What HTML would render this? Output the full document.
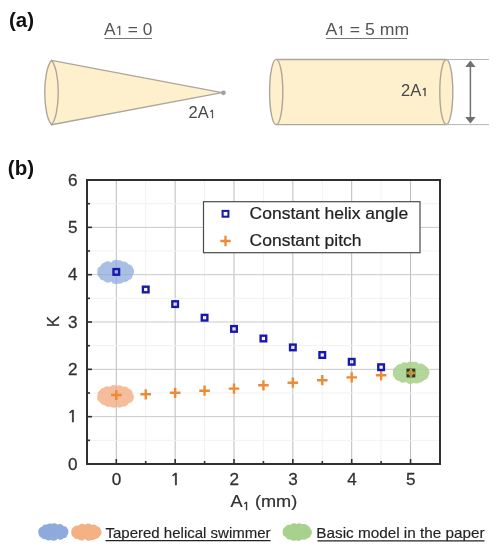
<!DOCTYPE html>
<html><head><meta charset="utf-8"><title>Figure</title>
<style>
html,body{margin:0;padding:0;background:#fff;}
body{width:502px;height:550px;overflow:hidden;}
svg{display:block;font-family:"Liberation Sans",Arial,sans-serif;}
</style></head><body>
<svg width="502" height="550" viewBox="0 0 502 550">
<rect width="502" height="550" fill="#fff"/>
<text transform="translate(8.90 26.80)" font-size="20.5" fill="#111" font-weight="bold">(a)</text>
<text transform="translate(104.00 35.00) scale(1.03 1)" font-size="16.8" fill="#555">A<tspan font-family="NanumGothic, sans-serif" font-size="12" stroke="#555" stroke-width="0.45">1</tspan> = 0</text>
<line x1="104.5" y1="38.5" x2="152" y2="38.5" stroke="#777" stroke-width="1.2"/>
<text transform="translate(325.50 35.00) scale(1.05 1)" font-size="16.8" fill="#555">A<tspan font-family="NanumGothic, sans-serif" font-size="12" stroke="#555" stroke-width="0.45">1</tspan> = 5 mm</text>
<line x1="326" y1="38.5" x2="407" y2="38.5" stroke="#777" stroke-width="1.2"/>
<path d="M51.5 60.4 L222 92.6 L51.5 124.7 Z" fill="#fef0cd" stroke="#ada69b" stroke-width="1.4" stroke-linejoin="round"/>
<path d="M51.5 60.4 A9.4 33.5 0 0 0 51.5 124.7 A9.4 33.5 0 0 0 51.5 60.4 Z" fill="#fef0cd" stroke="#ada69b" stroke-width="1.4"/>
<circle cx="223.4" cy="92.8" r="2.4" fill="#a0a0a0"/>
<text transform="translate(188.50 117.80)" font-size="16.5" fill="#484848">2A<tspan font-family="NanumGothic, sans-serif" font-size="11.2" stroke="#484848" stroke-width="0.45">1</tspan></text>
<rect x="276" y="59.5" width="170.3" height="65" fill="#fef0cd"/>
<ellipse cx="446.3" cy="92" rx="6.5" ry="32.5" fill="#fef0cd" stroke="#ada69b" stroke-width="1.4"/>
<line x1="276" y1="59.5" x2="446.3" y2="59.5" stroke="#ada69b" stroke-width="1.4"/>
<line x1="276" y1="124.6" x2="446.3" y2="124.6" stroke="#ada69b" stroke-width="1.4"/>
<ellipse cx="276.2" cy="92" rx="6.6" ry="32.6" fill="#fef0cd" stroke="#ada69b" stroke-width="1.4"/>
<line x1="446.3" y1="59.5" x2="489" y2="59.5" stroke="#b5b5b5" stroke-width="1"/>
<line x1="446.3" y1="124.6" x2="489" y2="124.6" stroke="#b5b5b5" stroke-width="1"/>
<line x1="470.4" y1="64" x2="470.4" y2="120" stroke="#707070" stroke-width="1.5"/>
<path d="M470.4 60.5 L475.6 67 L465.2 67 Z" fill="#707070"/>
<path d="M470.4 123.5 L475.6 117 L465.2 117 Z" fill="#707070"/>
<text transform="translate(401.00 96.00)" font-size="16.5" fill="#484848">2A<tspan font-family="NanumGothic, sans-serif" font-size="11.2" stroke="#484848" stroke-width="0.45">1</tspan></text>
<text transform="translate(7.80 175.40)" font-size="20.5" fill="#111" font-weight="bold">(b)</text>
<line x1="116.30" y1="180" x2="116.30" y2="464" stroke="#bcbcbc" stroke-width="1"/>
<line x1="145.72" y1="180" x2="145.72" y2="464" stroke="#f1f1f1" stroke-width="1"/>
<line x1="175.15" y1="180" x2="175.15" y2="464" stroke="#bcbcbc" stroke-width="1"/>
<line x1="204.57" y1="180" x2="204.57" y2="464" stroke="#f1f1f1" stroke-width="1"/>
<line x1="234.00" y1="180" x2="234.00" y2="464" stroke="#bcbcbc" stroke-width="1"/>
<line x1="263.43" y1="180" x2="263.43" y2="464" stroke="#f1f1f1" stroke-width="1"/>
<line x1="292.85" y1="180" x2="292.85" y2="464" stroke="#bcbcbc" stroke-width="1"/>
<line x1="322.27" y1="180" x2="322.27" y2="464" stroke="#f1f1f1" stroke-width="1"/>
<line x1="351.70" y1="180" x2="351.70" y2="464" stroke="#bcbcbc" stroke-width="1"/>
<line x1="381.12" y1="180" x2="381.12" y2="464" stroke="#f1f1f1" stroke-width="1"/>
<line x1="410.55" y1="180" x2="410.55" y2="464" stroke="#bcbcbc" stroke-width="1"/>
<line x1="87" y1="440.33" x2="440" y2="440.33" stroke="#f1f1f1" stroke-width="1"/>
<line x1="87" y1="416.67" x2="440" y2="416.67" stroke="#c9c9c9" stroke-width="1"/>
<line x1="87" y1="393.00" x2="440" y2="393.00" stroke="#f1f1f1" stroke-width="1"/>
<line x1="87" y1="369.34" x2="440" y2="369.34" stroke="#c9c9c9" stroke-width="1"/>
<line x1="87" y1="345.68" x2="440" y2="345.68" stroke="#f1f1f1" stroke-width="1"/>
<line x1="87" y1="322.01" x2="440" y2="322.01" stroke="#c9c9c9" stroke-width="1"/>
<line x1="87" y1="298.35" x2="440" y2="298.35" stroke="#f1f1f1" stroke-width="1"/>
<line x1="87" y1="274.68" x2="440" y2="274.68" stroke="#c9c9c9" stroke-width="1"/>
<line x1="87" y1="251.02" x2="440" y2="251.02" stroke="#f1f1f1" stroke-width="1"/>
<line x1="87" y1="227.35" x2="440" y2="227.35" stroke="#c9c9c9" stroke-width="1"/>
<line x1="87" y1="203.69" x2="440" y2="203.69" stroke="#f1f1f1" stroke-width="1"/>
<g fill="#8eaadc" opacity="0.75"><ellipse cx="115.60" cy="272.00" rx="14.00" ry="7.50"/><circle cx="128.82" cy="271.51" r="5.25"/><circle cx="127.93" cy="275.34" r="4.66"/><circle cx="124.74" cy="277.31" r="4.85"/><circle cx="119.33" cy="278.54" r="5.19"/><circle cx="115.27" cy="279.57" r="4.43"/><circle cx="107.99" cy="277.95" r="4.83"/><circle cx="103.78" cy="276.14" r="4.40"/><circle cx="102.55" cy="273.50" r="5.12"/><circle cx="102.60" cy="270.97" r="5.35"/><circle cx="104.92" cy="267.07" r="4.43"/><circle cx="107.74" cy="266.25" r="4.94"/><circle cx="115.37" cy="264.78" r="4.78"/><circle cx="119.08" cy="265.06" r="4.82"/><circle cx="123.88" cy="266.08" r="4.62"/><circle cx="127.96" cy="269.03" r="4.90"/></g>
<g fill="#f4ad85" opacity="0.8"><ellipse cx="115.50" cy="396.40" rx="14.00" ry="7.00"/><circle cx="128.60" cy="396.96" r="5.35"/><circle cx="128.76" cy="398.67" r="4.48"/><circle cx="123.76" cy="401.40" r="5.14"/><circle cx="119.31" cy="402.93" r="4.71"/><circle cx="113.81" cy="402.84" r="5.01"/><circle cx="108.33" cy="402.35" r="4.56"/><circle cx="104.52" cy="400.42" r="4.79"/><circle cx="102.57" cy="397.40" r="5.39"/><circle cx="102.55" cy="394.47" r="4.94"/><circle cx="104.22" cy="392.45" r="4.67"/><circle cx="107.36" cy="390.63" r="4.43"/><circle cx="113.96" cy="389.66" r="4.72"/><circle cx="119.28" cy="390.45" r="5.29"/><circle cx="124.61" cy="391.56" r="4.96"/><circle cx="128.04" cy="393.18" r="4.42"/></g>
<g fill="#a9d18e" opacity="0.88"><ellipse cx="411.00" cy="372.80" rx="14.00" ry="6.75"/><circle cx="424.54" cy="372.47" r="4.94"/><circle cx="423.47" cy="375.19" r="5.00"/><circle cx="420.13" cy="377.95" r="4.47"/><circle cx="416.31" cy="378.31" r="5.24"/><circle cx="410.22" cy="379.41" r="4.63"/><circle cx="403.05" cy="377.98" r="4.87"/><circle cx="399.46" cy="376.19" r="4.88"/><circle cx="397.28" cy="374.01" r="4.55"/><circle cx="398.14" cy="371.40" r="5.27"/><circle cx="400.23" cy="369.19" r="5.14"/><circle cx="404.40" cy="366.81" r="4.46"/><circle cx="410.28" cy="366.55" r="4.99"/><circle cx="414.81" cy="366.24" r="4.43"/><circle cx="420.83" cy="368.39" r="4.87"/><circle cx="423.30" cy="370.61" r="5.28"/></g>
<rect x="203.5" y="201.7" width="216.5" height="51" fill="#fff" stroke="#4a4a4a" stroke-width="1.2"/>
<rect x="222.6" y="210.9" width="5.8" height="5.8" fill="none" stroke="#1818b0" stroke-width="2.05"/>
<path d="M220.3 241 H230.7 M225.5 235.8 V246.2" stroke="#ee8a35" stroke-width="2.3"/>
<text transform="translate(249.60 218.70) scale(1.081 1)" font-size="16.2" fill="#222" stroke="#222" stroke-width="0.2">Constant helix angle</text>
<text transform="translate(249.60 245.80) scale(1.081 1)" font-size="16.2" fill="#222" stroke="#222" stroke-width="0.2">Constant pitch</text>
<path d="M111.00 395.00 H121.60 M116.30 389.90 V400.10" stroke="#ee8a35" stroke-width="2.4"/>
<path d="M140.42 394.30 H151.03 M145.72 389.20 V399.40" stroke="#ee8a35" stroke-width="2.4"/>
<path d="M169.85 392.80 H180.45 M175.15 387.70 V397.90" stroke="#ee8a35" stroke-width="2.4"/>
<path d="M199.27 390.70 H209.88 M204.57 385.60 V395.80" stroke="#ee8a35" stroke-width="2.4"/>
<path d="M228.70 388.60 H239.30 M234.00 383.50 V393.70" stroke="#ee8a35" stroke-width="2.4"/>
<path d="M258.12 385.30 H268.73 M263.43 380.20 V390.40" stroke="#ee8a35" stroke-width="2.4"/>
<path d="M287.55 382.70 H298.15 M292.85 377.60 V387.80" stroke="#ee8a35" stroke-width="2.4"/>
<path d="M316.97 380.20 H327.57 M322.27 375.10 V385.30" stroke="#ee8a35" stroke-width="2.4"/>
<path d="M346.40 377.40 H357.00 M351.70 372.30 V382.50" stroke="#ee8a35" stroke-width="2.4"/>
<path d="M375.82 375.30 H386.43 M381.12 370.20 V380.40" stroke="#ee8a35" stroke-width="2.4"/>
<rect x="113.50" y="269.10" width="5.6" height="5.6" fill="none" stroke="#1818b0" stroke-width="2.4"/>
<rect x="142.92" y="286.70" width="5.6" height="5.6" fill="none" stroke="#1818b0" stroke-width="2.4"/>
<rect x="172.35" y="301.30" width="5.6" height="5.6" fill="none" stroke="#1818b0" stroke-width="2.4"/>
<rect x="201.77" y="314.90" width="5.6" height="5.6" fill="none" stroke="#1818b0" stroke-width="2.4"/>
<rect x="231.20" y="326.10" width="5.6" height="5.6" fill="none" stroke="#1818b0" stroke-width="2.4"/>
<rect x="260.62" y="335.70" width="5.6" height="5.6" fill="none" stroke="#1818b0" stroke-width="2.4"/>
<rect x="290.05" y="344.60" width="5.6" height="5.6" fill="none" stroke="#1818b0" stroke-width="2.4"/>
<rect x="319.47" y="352.20" width="5.6" height="5.6" fill="none" stroke="#1818b0" stroke-width="2.4"/>
<rect x="348.90" y="359.00" width="5.6" height="5.6" fill="none" stroke="#1818b0" stroke-width="2.4"/>
<rect x="378.32" y="364.40" width="5.6" height="5.6" fill="none" stroke="#1818b0" stroke-width="2.4"/>
<rect x="407.6" y="369.7" width="6.6" height="6.6" fill="#b8963e" stroke="#2b3424" stroke-width="2.2"/>
<path d="M406.7 373.0 H415.1 M410.9 368.8 V377.2" stroke="#b8963e" stroke-width="2.4"/>
<rect x="87" y="180" width="353" height="284" fill="none" stroke="#303030" stroke-width="2"/>
<line x1="116.30" y1="464" x2="116.30" y2="459" stroke="#303030" stroke-width="1.6"/>
<line x1="145.72" y1="464" x2="145.72" y2="461" stroke="#303030" stroke-width="1.6"/>
<line x1="175.15" y1="464" x2="175.15" y2="459" stroke="#303030" stroke-width="1.6"/>
<line x1="204.57" y1="464" x2="204.57" y2="461" stroke="#303030" stroke-width="1.6"/>
<line x1="234.00" y1="464" x2="234.00" y2="459" stroke="#303030" stroke-width="1.6"/>
<line x1="263.43" y1="464" x2="263.43" y2="461" stroke="#303030" stroke-width="1.6"/>
<line x1="292.85" y1="464" x2="292.85" y2="459" stroke="#303030" stroke-width="1.6"/>
<line x1="322.27" y1="464" x2="322.27" y2="461" stroke="#303030" stroke-width="1.6"/>
<line x1="351.70" y1="464" x2="351.70" y2="459" stroke="#303030" stroke-width="1.6"/>
<line x1="381.12" y1="464" x2="381.12" y2="461" stroke="#303030" stroke-width="1.6"/>
<line x1="410.55" y1="464" x2="410.55" y2="459" stroke="#303030" stroke-width="1.6"/>
<line x1="87" y1="440.33" x2="90" y2="440.33" stroke="#303030" stroke-width="1.6"/>
<line x1="87" y1="416.67" x2="92" y2="416.67" stroke="#303030" stroke-width="1.6"/>
<line x1="87" y1="393.00" x2="90" y2="393.00" stroke="#303030" stroke-width="1.6"/>
<line x1="87" y1="369.34" x2="92" y2="369.34" stroke="#303030" stroke-width="1.6"/>
<line x1="87" y1="345.68" x2="90" y2="345.68" stroke="#303030" stroke-width="1.6"/>
<line x1="87" y1="322.01" x2="92" y2="322.01" stroke="#303030" stroke-width="1.6"/>
<line x1="87" y1="298.35" x2="90" y2="298.35" stroke="#303030" stroke-width="1.6"/>
<line x1="87" y1="274.68" x2="92" y2="274.68" stroke="#303030" stroke-width="1.6"/>
<line x1="87" y1="251.02" x2="90" y2="251.02" stroke="#303030" stroke-width="1.6"/>
<line x1="87" y1="227.35" x2="92" y2="227.35" stroke="#303030" stroke-width="1.6"/>
<line x1="87" y1="203.69" x2="90" y2="203.69" stroke="#303030" stroke-width="1.6"/>
<text transform="translate(77.40 469.80) scale(1.07 1)" font-size="16" fill="#303030" stroke="#303030" stroke-width="0.25" text-anchor="end">0</text>
<text transform="translate(77.40 422.47) scale(1.07 1)" font-size="16" fill="#303030" stroke="#303030" stroke-width="0.25" text-anchor="end"><tspan font-family="NanumGothic, sans-serif" font-size="15.6" stroke-width="0.6">1</tspan></text>
<text transform="translate(77.40 375.14) scale(1.07 1)" font-size="16" fill="#303030" stroke="#303030" stroke-width="0.25" text-anchor="end">2</text>
<text transform="translate(77.40 327.81) scale(1.07 1)" font-size="16" fill="#303030" stroke="#303030" stroke-width="0.25" text-anchor="end">3</text>
<text transform="translate(77.40 280.48) scale(1.07 1)" font-size="16" fill="#303030" stroke="#303030" stroke-width="0.25" text-anchor="end">4</text>
<text transform="translate(77.40 233.15) scale(1.07 1)" font-size="16" fill="#303030" stroke="#303030" stroke-width="0.25" text-anchor="end">5</text>
<text transform="translate(77.40 185.82) scale(1.07 1)" font-size="16" fill="#303030" stroke="#303030" stroke-width="0.25" text-anchor="end">6</text>
<text transform="translate(116.50 484.50) scale(1.07 1)" font-size="16" fill="#303030" stroke="#303030" stroke-width="0.25" text-anchor="middle">0</text>
<text transform="translate(175.35 484.50) scale(1.07 1)" font-size="16" fill="#303030" stroke="#303030" stroke-width="0.25" text-anchor="middle"><tspan font-family="NanumGothic, sans-serif" font-size="15.6" stroke-width="0.6">1</tspan></text>
<text transform="translate(234.20 484.50) scale(1.07 1)" font-size="16" fill="#303030" stroke="#303030" stroke-width="0.25" text-anchor="middle">2</text>
<text transform="translate(293.05 484.50) scale(1.07 1)" font-size="16" fill="#303030" stroke="#303030" stroke-width="0.25" text-anchor="middle">3</text>
<text transform="translate(351.90 484.50) scale(1.07 1)" font-size="16" fill="#303030" stroke="#303030" stroke-width="0.25" text-anchor="middle">4</text>
<text transform="translate(410.75 484.50) scale(1.07 1)" font-size="16" fill="#303030" stroke="#303030" stroke-width="0.25" text-anchor="middle">5</text>
<text transform="translate(59 321.5) rotate(-90)" font-size="17" fill="#303030" stroke="#303030" stroke-width="0.2" text-anchor="middle">K</text>
<text transform="translate(263.80 506.80) scale(1.08 1)" font-size="16.8" fill="#303030" stroke="#303030" stroke-width="0.2" text-anchor="middle">A<tspan font-family="NanumGothic, sans-serif" font-size="11.2" dy="3" stroke-width="0.5">1</tspan><tspan dy="-3"> (mm)</tspan></text>
<g fill="#8faadc" opacity="1"><ellipse cx="53.30" cy="532.00" rx="11.33" ry="4.93"/><circle cx="64.61" cy="531.74" r="3.87"/><circle cx="63.40" cy="534.18" r="3.92"/><circle cx="60.35" cy="535.60" r="4.13"/><circle cx="53.70" cy="536.32" r="4.47"/><circle cx="48.77" cy="536.41" r="3.97"/><circle cx="44.88" cy="535.14" r="4.02"/><circle cx="42.51" cy="533.49" r="3.88"/><circle cx="42.86" cy="531.23" r="4.58"/><circle cx="45.76" cy="528.93" r="4.48"/><circle cx="49.95" cy="527.37" r="3.95"/><circle cx="54.20" cy="527.54" r="4.32"/><circle cx="59.77" cy="528.59" r="4.52"/><circle cx="63.71" cy="530.04" r="3.86"/></g>
<g fill="#f4b183" opacity="1"><ellipse cx="86.30" cy="532.20" rx="11.43" ry="4.83"/><circle cx="97.17" cy="532.31" r="4.42"/><circle cx="95.47" cy="534.32" r="4.59"/><circle cx="91.96" cy="535.70" r="4.58"/><circle cx="88.67" cy="536.61" r="4.18"/><circle cx="81.52" cy="536.12" r="4.34"/><circle cx="77.17" cy="535.10" r="3.88"/><circle cx="75.34" cy="533.35" r="4.00"/><circle cx="75.62" cy="531.10" r="4.28"/><circle cx="77.13" cy="529.42" r="3.97"/><circle cx="82.06" cy="528.41" r="4.57"/><circle cx="88.27" cy="527.49" r="3.92"/><circle cx="93.32" cy="528.42" r="3.90"/><circle cx="96.52" cy="530.07" r="3.89"/></g>
<g fill="#a9d18e" opacity="1"><ellipse cx="297.20" cy="532.00" rx="10.88" ry="5.08"/><circle cx="307.44" cy="532.26" r="4.49"/><circle cx="306.73" cy="534.28" r="4.01"/><circle cx="303.93" cy="535.50" r="4.35"/><circle cx="298.50" cy="536.48" r="4.44"/><circle cx="293.79" cy="536.25" r="4.45"/><circle cx="289.83" cy="535.12" r="4.47"/><circle cx="286.79" cy="532.94" r="4.14"/><circle cx="287.14" cy="530.87" r="4.37"/><circle cx="288.94" cy="529.11" r="4.26"/><circle cx="294.01" cy="527.29" r="4.01"/><circle cx="299.07" cy="527.50" r="4.37"/><circle cx="303.86" cy="528.19" r="4.07"/><circle cx="305.88" cy="529.60" r="4.47"/></g>
<text transform="translate(105.50 537.50)" font-size="15" fill="#222" stroke="#222" stroke-width="0.15">Tapered helical swimmer</text>
<line x1="105.5" y1="540.6" x2="270.5" y2="540.6" stroke="#222" stroke-width="1.3"/>
<text transform="translate(316.30 537.50) scale(1.02 1)" font-size="15" fill="#222" stroke="#222" stroke-width="0.15">Basic model in the paper</text>
<line x1="317.5" y1="540.8" x2="484.5" y2="540.8" stroke="#222" stroke-width="1.3"/>
</svg>
</body></html>
